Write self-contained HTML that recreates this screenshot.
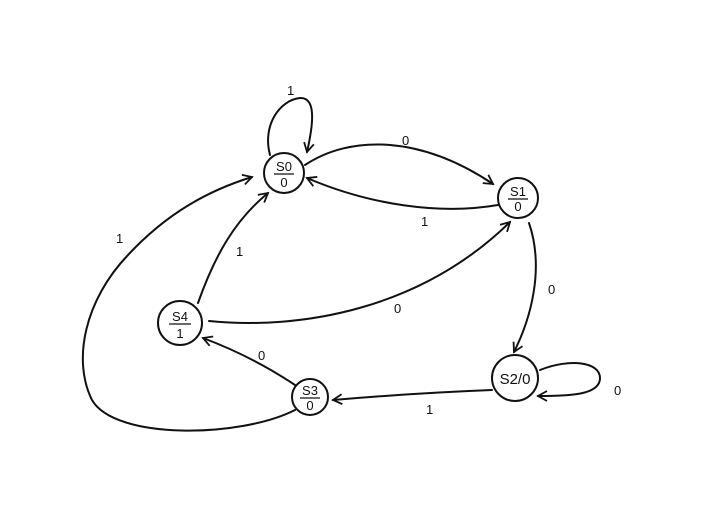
<!DOCTYPE html>
<html><head><meta charset="utf-8"><style>
html,body{margin:0;padding:0;background:#fff;}
svg{display:block;}
text{font-family:"Liberation Sans",sans-serif;fill:#111;}
</style></head><body>
<svg width="716" height="508" viewBox="0 0 716 508" xmlns="http://www.w3.org/2000/svg">
<defs>
<marker id="a" markerWidth="12" markerHeight="12" refX="10" refY="6" orient="auto" markerUnits="userSpaceOnUse">
<path d="M1,1 L10,6 L1,11" fill="none" stroke="#111" stroke-width="1.8"/>
</marker>
</defs>
<g fill="none" stroke="#111" stroke-width="2" stroke-linecap="round">
<circle cx="284" cy="173" r="20"/>
<circle cx="518" cy="198" r="20"/>
<circle cx="515" cy="378" r="23"/>
<circle cx="310" cy="397" r="18"/>
<circle cx="180" cy="323" r="22"/>
<path d="M270,155 C262,125 280,100 300,98 C318,97 312,130 307,152" marker-end="url(#a)"/>
<path d="M305,165 C350,135 420,135 493,184" marker-end="url(#a)"/>
<path d="M498,205 C440,215 370,205 307,178" marker-end="url(#a)"/>
<path d="M198,303 C215,255 235,220 268,193" marker-end="url(#a)"/>
<path d="M295,410 C240,438 115,440 92,400 C72,360 85,300 128,255 C168,212 210,190 252,177" marker-end="url(#a)"/>
<path d="M209,321 C300,330 420,310 510,222" marker-end="url(#a)"/>
<path d="M529,223 C545,270 530,320 514,352" marker-end="url(#a)"/>
<path d="M540,370 C570,358 600,362 600,378 C600,395 570,396 538,396" marker-end="url(#a)"/>
<path d="M492,390 C440,392 380,396 333,400" marker-end="url(#a)"/>
<path d="M295,385 C265,365 235,350 203,338" marker-end="url(#a)"/>
</g>
<g font-size="13">
<text x="284" y="171" text-anchor="middle">S0</text><line x1="274" y1="174" x2="294" y2="174" stroke="#111" stroke-width="1.3"/><text x="284" y="187" text-anchor="middle">0</text>
<text x="518" y="196" text-anchor="middle">S1</text><line x1="508" y1="199" x2="528" y2="199" stroke="#111" stroke-width="1.3"/><text x="518" y="211" text-anchor="middle">0</text>
<text x="515" y="384" text-anchor="middle" font-size="15">S2/0</text>
<text x="310" y="395" text-anchor="middle">S3</text><line x1="300" y1="398" x2="320" y2="398" stroke="#111" stroke-width="1.3"/><text x="310" y="410" text-anchor="middle">0</text>
<text x="180" y="321" text-anchor="middle">S4</text><line x1="169" y1="324" x2="191" y2="324" stroke="#111" stroke-width="1.3"/><text x="180" y="338" text-anchor="middle">1</text>
<text x="287" y="95">1</text>
<text x="402" y="145">0</text>
<text x="421" y="226">1</text>
<text x="116" y="243">1</text>
<text x="236" y="256">1</text>
<text x="394" y="313">0</text>
<text x="548" y="294">0</text>
<text x="614" y="395">0</text>
<text x="426" y="414">1</text>
<text x="258" y="360">0</text>
</g>
</svg>
</body></html>
